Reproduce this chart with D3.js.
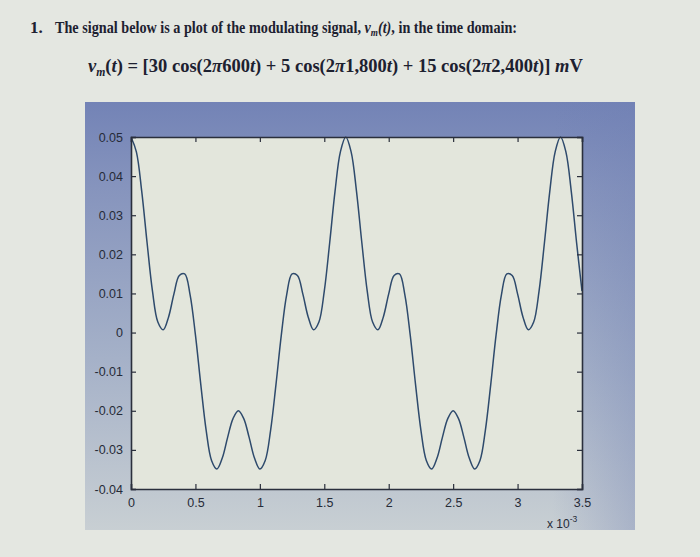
<!DOCTYPE html>
<html>
<head>
<meta charset="utf-8">
<script src="https://cdn.jsdelivr.net/npm/d3@7"></script>
<style>
  html, body { margin: 0; padding: 0; background: #e4e7e1; }
  svg { display: block; }
</style>
</head>
<body>
<svg id="chart" width="700" height="557"></svg>
<script>
// Time samples (x 10^-3 s)
const timeMs = [0, 0.0417, 0.0833, 0.125, 0.1667, 0.2083, 0.25, 0.2917, 0.3333, 0.375,
  0.4167, 0.4583, 0.5, 0.5417, 0.5833, 0.625, 0.6667, 0.7083, 0.75, 0.7917,
  0.8333, 0.875, 0.9167, 0.9583, 1, 1.0417, 1.0833, 1.125, 1.1667, 1.2083,
  1.25, 1.2917, 1.3333, 1.375, 1.4167, 1.4583, 1.5, 1.5417, 1.5833, 1.625,
  1.6667, 1.7083, 1.75, 1.7917, 1.8333, 1.875, 1.9167, 1.9583, 2, 2.0417,
  2.0833, 2.125, 2.1667, 2.2083, 2.25, 2.2917, 2.3333, 2.375, 2.4167, 2.4583,
  2.5, 2.5417, 2.5833, 2.625, 2.6667, 2.7083, 2.75, 2.7917, 2.8333, 2.875,
  2.9167, 2.9583, 3, 3.0417, 3.0833, 3.125, 3.1667, 3.2083, 3.25, 3.2917,
  3.3333, 3.375, 3.4167, 3.4583, 3.5];
// Signal values (V)
const signalV = [0.0500, 0.0462, 0.0361, 0.0229, 0.0106, 0.0027, 0.0007, 0.0040, 0.0099, 0.0146,
  0.0150, 0.0097, -0.0006, -0.0133, -0.0250, -0.0327, -0.0349, -0.0321, -0.0268, -0.0220,
  -0.0200, -0.0220, -0.0268, -0.0321, -0.0349, -0.0327, -0.0250, -0.0133, -0.0006, 0.0097,
  0.0150, 0.0146, 0.0099, 0.0040, 0.0007, 0.0027, 0.0106, 0.0229, 0.0361, 0.0462,
  0.0500, 0.0462, 0.0361, 0.0229, 0.0106, 0.0027, 0.0007, 0.0040, 0.0099, 0.0146,
  0.0150, 0.0097, -0.0006, -0.0133, -0.0250, -0.0327, -0.0349, -0.0321, -0.0268, -0.0220,
  -0.0200, -0.0220, -0.0268, -0.0321, -0.0349, -0.0327, -0.0250, -0.0133, -0.0006, 0.0097,
  0.0150, 0.0146, 0.0099, 0.0040, 0.0007, 0.0027, 0.0106, 0.0229, 0.0361, 0.0462,
  0.0500, 0.0462, 0.0361, 0.0229, 0.0106];
const xTicks = [0, 0.5, 1, 1.5, 2, 2.5, 3, 3.5];
const xTickLabels = ["0", "0.5", "1", "1.5", "2", "2.5", "3", "3.5"];
const yTicks = [0.05, 0.04, 0.03, 0.02, 0.01, 0, -0.01, -0.02, -0.03, -0.04];
const yTickLabels = ["0.05", "0.04", "0.03", "0.02", "0.01", "0", "-0.01", "-0.02", "-0.03", "-0.04"];

const svg = d3.select("#chart");
const defs = svg.append("defs");

// Page heading text
svg.append("text").attr("x", 30).attr("y", 33)
  .attr("font-family", "Liberation Serif").attr("font-weight", "bold")
  .attr("font-size", 17).attr("fill", "#1d2130")
  .text("1.");
const line1 = svg.append("g").attr("transform", "translate(55,33) scale(0.835,1)")
  .append("text").attr("x", 0).attr("y", 0)
  .attr("font-family", "Liberation Serif").attr("font-weight", "bold")
  .attr("font-size", 17).attr("fill", "#1d2130");
line1.append("tspan").text("The signal below is a plot of the modulating signal, ");
line1.append("tspan").attr("font-style", "italic").text("v");
line1.append("tspan").attr("font-style", "italic").attr("font-size", 11).attr("dy", 3).text("m");
line1.append("tspan").attr("dy", -3).attr("font-style", "italic").text("(t)");
line1.append("tspan").text(", in the time domain:");

const eq = svg.append("g").attr("transform", "translate(88,72) scale(0.975,1)")
  .append("text").attr("x", 0).attr("y", 0)
  .attr("font-family", "Liberation Serif").attr("font-weight", "bold")
  .attr("font-size", 19).attr("fill", "#1d2130");
eq.append("tspan").attr("font-style", "italic").text("v");
eq.append("tspan").attr("font-style", "italic").attr("font-size", 12).attr("dy", 4).text("m");
eq.append("tspan").attr("dy", -4).text("(");
eq.append("tspan").attr("font-style", "italic").text("t");
eq.append("tspan").text(") = [30 cos(2");
eq.append("tspan").attr("font-style", "italic").text("π");
eq.append("tspan").text("600");
eq.append("tspan").attr("font-style", "italic").text("t");
eq.append("tspan").text(") + 5 cos(2");
eq.append("tspan").attr("font-style", "italic").text("π");
eq.append("tspan").text("1,800");
eq.append("tspan").attr("font-style", "italic").text("t");
eq.append("tspan").text(") + 15 cos(2");
eq.append("tspan").attr("font-style", "italic").text("π");
eq.append("tspan").text("2,400");
eq.append("tspan").attr("font-style", "italic").text("t");
eq.append("tspan").text(")] ");
eq.append("tspan").attr("font-style", "italic").text("m");
eq.append("tspan").text("V");

// Figure panel (photographed MATLAB figure background)
const grad = defs.append("linearGradient").attr("id", "panelGrad")
  .attr("x1", 0).attr("y1", 0).attr("x2", 0).attr("y2", 1);
grad.append("stop").attr("offset", "0%").attr("stop-color", "#7383b6");
grad.append("stop").attr("offset", "20%").attr("stop-color", "#8694bd");
grad.append("stop").attr("offset", "60%").attr("stop-color", "#a5b1c8");
grad.append("stop").attr("offset", "100%").attr("stop-color", "#c8cfd3");
svg.append("rect").attr("x", 85).attr("y", 102).attr("width", 550).attr("height", 428)
  .attr("fill", "url(#panelGrad)");
const gradH = defs.append("linearGradient").attr("id", "panelGradH")
  .attr("x1", 0).attr("y1", 0).attr("x2", 1).attr("y2", 0);
gradH.append("stop").attr("offset", "0%").attr("stop-color", "#c9d0d4").attr("stop-opacity", 0.0);
gradH.append("stop").attr("offset", "85%").attr("stop-color", "#7080b4").attr("stop-opacity", 0.0);
gradH.append("stop").attr("offset", "100%").attr("stop-color", "#7080b4").attr("stop-opacity", 0.35);
svg.append("rect").attr("x", 85).attr("y", 102).attr("width", 550).attr("height", 428)
  .attr("fill", "url(#panelGradH)");

// Plot area
const pLeft = 131, pRight = 582, pTop = 137, pBottom = 489;
const x = d3.scaleLinear().domain([0, 3.5]).range([pLeft, pRight]);
const y = d3.scaleLinear().domain([-0.04, 0.05]).range([pBottom, pTop]);

svg.append("rect").attr("x", pLeft).attr("y", pTop)
  .attr("width", pRight - pLeft).attr("height", pBottom - pTop)
  .attr("fill", "#e3e6dc");

const clip = defs.append("clipPath").attr("id", "plotClip");
clip.append("rect").attr("x", pLeft).attr("y", pTop - 1)
  .attr("width", pRight - pLeft).attr("height", pBottom - pTop + 2);

const lineGen = d3.line()
  .x((d, i) => x(timeMs[i]))
  .y(d => y(d))
  .curve(d3.curveCatmullRom.alpha(0.5));

svg.append("path")
  .datum(signalV)
  .attr("clip-path", "url(#plotClip)")
  .attr("fill", "none")
  .attr("stroke", "#2e4a6c")
  .attr("stroke-width", 1.5)
  .attr("d", lineGen);

const tickColor = "#2a2f3c";
const labelFont = "Liberation Sans";

// Axes (MATLAB-style box with inward ticks)
const xAxisB = d3.axisBottom(x).tickValues(xTicks).tickSize(-5)
  .tickFormat((d, i) => xTickLabels[i]).tickPadding(9);
const gxb = svg.append("g").attr("transform", `translate(0,${pBottom})`).call(xAxisB);
const xAxisT = d3.axisTop(x).tickValues(xTicks).tickSize(-5).tickFormat("");
const gxt = svg.append("g").attr("transform", `translate(0,${pTop})`).call(xAxisT);
const yAxisL = d3.axisLeft(y).tickValues(yTicks).tickSize(-5)
  .tickFormat((d, i) => yTickLabels[i]).tickPadding(8);
const gyl = svg.append("g").attr("transform", `translate(${pLeft},0)`).call(yAxisL);
const yAxisR = d3.axisRight(y).tickValues(yTicks).tickSize(-5).tickFormat("");
const gyr = svg.append("g").attr("transform", `translate(${pRight},0)`).call(yAxisR);

[gxb, gxt, gyl, gyr].forEach(g => {
  g.select(".domain").attr("stroke", tickColor).attr("stroke-width", 1.6);
  g.selectAll(".tick line").attr("stroke", tickColor).attr("stroke-width", 1.2);
  g.selectAll(".tick text").attr("fill", "#262b38")
    .attr("font-family", labelFont).attr("font-size", 12.5);
});

// Exponent label
const expo = svg.append("text").attr("x", 547).attr("y", 528)
  .attr("font-family", labelFont).attr("font-size", 12).attr("fill", "#262b38");
expo.append("tspan").text("x 10");
expo.append("tspan").attr("dy", -6).attr("font-size", 8.5).text("-3");
</script>
</body>
</html>
